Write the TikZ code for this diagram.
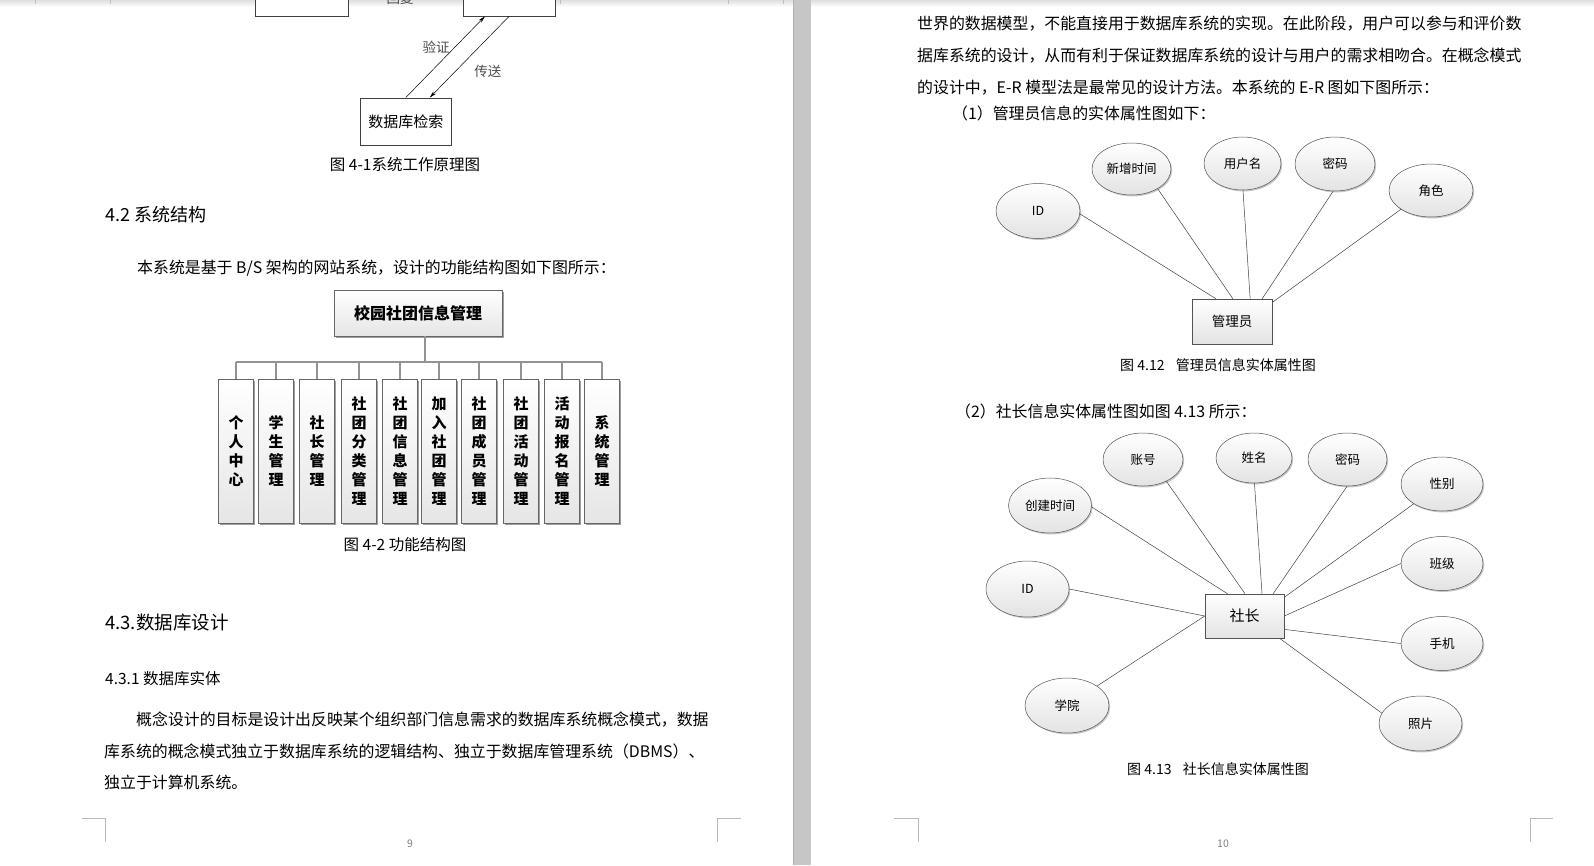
\documentclass[tikz,border=0pt]{standalone}
\usepackage{fontspec}
\setmainfont{Noto Sans CJK SC}
\usetikzlibrary{arrows.meta,calc,shapes.geometric,shadows}
\newcommand{\setfs}[2]{\fontsize{#1}{#2}\selectfont}

\begin{document}
\begin{tikzpicture}[
        x=1pt, y=-1pt,
        bodytext/.style={anchor=west, inner sep=0pt, font=\setfs{15.9}{20}},
        heading/.style={anchor=west, inner sep=0pt},
        caption/.style={inner sep=0pt, font=\setfs{14}{17}},
        pagenum/.style={inner sep=0pt, text=gray, font=\setfs{10.5}{12}},
        cropmark/.style={draw=gray!55, line width=0.7pt},
        flowbox/.style={
            rectangle,
            draw=black!75,
            line width=0.8pt,
            fill=white,
            inner sep=0pt,
            font=\setfs{15}{18}
        },
        flowarrow/.style={
            -{Stealth[length=7pt,width=3.6pt]},
            line width=0.5pt
        },
        flowlabel/.style={inner sep=0pt, text=black!70, font=\setfs{13.5}{16}},
        chartbox/.style={
            rectangle,
            draw=gray!80!black,
            line width=0.6pt,
            top color=white,
            bottom color=gray!20,
            drop shadow={shadow xshift=1.6pt, shadow yshift=-1.6pt, fill=gray!75, opacity=1},
            inner sep=0pt,
            align=center
        },
        chartline/.style={draw=gray!85, line width=1.4pt},
        attr/.style={
            ellipse,
            draw=gray!65!black,
            line width=0.5pt,
            top color=white,
            bottom color=gray!22,
            drop shadow={shadow xshift=1.2pt, shadow yshift=-1.4pt, fill=gray!55, opacity=.8},
            inner sep=0pt,
            minimum width=83pt,
            minimum height=55pt,
            font=\setfs{12.5}{15}
        },
        entity/.style={
            rectangle,
            draw=gray!65!black,
            line width=0.6pt,
            top color=white,
            bottom color=gray!22,
            drop shadow={shadow xshift=1.2pt, shadow yshift=-1.4pt, fill=gray!55, opacity=.8},
            inner sep=0pt
        },
        erline/.style={draw=gray!50!black, line width=0.5pt}
    ]

        \clip (0,0) rectangle (1594,865);

        % pages and the gap between them
        \fill[white] (0,0) rectangle (1594,865);
        \fill[gray!45] (793,0) rectangle (811,865);
        \draw[gray!65] (793,0) -- (793,865);
        \shade[top color=gray!25, bottom color=white] (0,0) rectangle (793,7);
        \shade[top color=gray!25, bottom color=white] (811,0) rectangle (1594,7);
        \foreach \tx in {35,110,288,560,728,783}
            \draw[gray!50, line width=0.6pt] (\tx,0) -- (\tx,4);

        % ---- left page: working principle (fragment)
        \node[flowbox, minimum width=93pt, minimum height=50pt] (user) at (301.5,-9) {};
        \node[flowbox, minimum width=92pt, minimum height=50pt] (server) at (509,-9) {};
        \node[flowlabel] (replylbl) at (400,-2) {回复};
        \node[flowbox, minimum width=91.5pt, minimum height=47pt] (dbsearch) at (405.75,121.5) {数据库检索};
        \coordinate (verifyend) at ($(server.south west)!0.24!(server.south east)$);
        \coordinate (sendend) at ($(dbsearch.north west)!0.76!(dbsearch.north east)$);
        \draw[flowarrow] (dbsearch.north) -- (verifyend)
            node[flowlabel, pos=0.62, left=5pt] {验证};
        \draw[flowarrow] (server.south) -- (sendend)
            node[flowlabel, pos=0.68, right=19pt] {传送};
        \node[caption, font=\setfs{15.5}{18}] (cap41) at (405,165) {图 4-1系统工作原理图};

        % ---- section 4.2
        \node[heading, font=\setfs{18}{22}] (sec42) at (105,215) {4.2 系统结构};
        \node[bodytext] (intro42) at (137,268) {本系统是基于 B/S 架构的网站系统，设计的功能结构图如下图所示：};

        % function structure chart
        \node[chartbox, minimum width=168pt, minimum height=46pt, font=\bfseries\setfs{16}{19}] (root) at (418,313) {校园社团信息管理};
        \foreach \i/\cx/\lab in {
            1/236/{个\\人\\中\\心},
            2/276/{学\\生\\管\\理},
            3/317/{社\\长\\管\\理},
            4/359/{社\\团\\分\\类\\管\\理},
            5/400/{社\\团\\信\\息\\管\\理},
            6/439/{加\\入\\社\\团\\管\\理},
            7/479/{社\\团\\成\\员\\管\\理},
            8/521/{社\\团\\活\\动\\管\\理},
            9/562/{活\\动\\报\\名\\管\\理},
            10/602/{系\\统\\管\\理}}
            \node[chartbox, minimum width=35pt, minimum height=144pt, font=\bfseries\setfs{15}{19}] (c\i) at (\cx,451) {\lab};

        \coordinate (hub) at (425,362);
        \draw[chartline] (root.south -| hub) -- (hub);
        \draw[chartline] (c1.north |- hub) -- (c10.north |- hub);
        \foreach \i in {1,...,10}
            \draw[chartline] (c\i.north |- hub) -- (c\i.north);

        \node[caption, font=\setfs{15.5}{18}] (cap42) at (405,545) {图 4-2 功能结构图};

        % ---- section 4.3
        \node[heading, font=\setfs{18.5}{22}] (sec43) at (105,622) {4.3.数据库设计};
        \node[heading, font=\setfs{15.5}{19}] (sec431) at (105,679) {4.3.1 数据库实体};
        \node[bodytext] (para1a) at (136,720) {概念设计的目标是设计出反映某个组织部门信息需求的数据库系统概念模式，数据};
        \node[bodytext] (para1b) at (104,751) {库系统的概念模式独立于数据库系统的逻辑结构、独立于数据库管理系统（DBMS）、};
        \node[bodytext] (para1c) at (104,782) {独立于计算机系统。};

        % page footer
        \draw[cropmark] (82,818) -- (105,818) -- (105,842);
        \draw[cropmark] (717.5,842) -- (717.5,818) -- (741,818);
        \node[pagenum] (pg9) at (410,844) {9};

        % ---- right page text
        \node[bodytext] (para2a) at (917,24) {世界的数据模型，不能直接用于数据库系统的实现。在此阶段，用户可以参与和评价数};
        \node[bodytext] (para2b) at (917,56) {据库系统的设计，从而有利于保证数据库系统的设计与用户的需求相吻合。在概念模式};
        \node[bodytext] (para2c) at (917,88) {的设计中，E-R 模型法是最常见的设计方法。本系统的 E-R 图如下图所示：};
        \node[bodytext] (item1) at (952,113) {（1）管理员信息的实体属性图如下：};

        % E-R: administrator
        \node[entity, minimum width=80pt, minimum height=45pt, font=\setfs{13.5}{16}] (admin) at (1232,321.5) {管理员};
        \node[attr, minimum width=84pt, minimum height=55pt, font=\setfs{12.5}{15}] (aid) at (1038,211) {ID};
        \node[attr, minimum width=79pt, minimum height=52pt, font=\setfs{12.5}{15}] (aadded) at (1131.5,169) {新增时间};
        \node[attr, minimum width=77pt, minimum height=53pt, font=\setfs{12.5}{15}] (auser) at (1242.5,163.5) {用户名};
        \node[attr, minimum width=80pt, minimum height=54pt, font=\setfs{12.5}{15}] (apass) at (1335,164) {密码};
        \node[attr, minimum width=84pt, minimum height=53pt, font=\setfs{12.5}{15}] (arole) at (1431,190.5) {角色};

        \draw[erline] (aid.-4) -- ($(admin.north west)!0.3!(admin.north east)$);
        \draw[erline] (aadded.-37) -- ($(admin.north west)!0.51!(admin.north east)$);
        \draw[erline] (auser.-89) -- ($(admin.north west)!0.725!(admin.north east)$);
        \draw[erline] (apass.-94) -- ($(admin.north west)!0.875!(admin.north east)$);
        \draw[erline] (arole.-148) -- ($(admin.north east)!0.08!(admin.south east)$);

        \node[caption] (cap412) at (1218,365) {图 4.12\hspace{0.8em}管理员信息实体属性图};

        \node[bodytext] (item2) at (955,411) {（2）社长信息实体属性图如图 4.13 所示：};

        % E-R: club president
        \node[entity, minimum width=79pt, minimum height=44pt, font=\setfs{15}{18}] (boss) at (1244.5,616) {社长};
        \node[attr] (bcreated) at (1050,505.5) {创建时间};
        \node[attr, minimum width=80pt, minimum height=53pt] (bacct) at (1143,459.5) {账号};
        \node[attr, minimum width=76pt, minimum height=50pt] (bname) at (1254,458) {姓名};
        \node[attr, minimum width=79pt, minimum height=53pt] (bpass) at (1347.5,459.5) {密码};
        \node[attr, minimum width=82pt, minimum height=54pt] (bsex) at (1442,484) {性别};
        \node[attr, minimum width=82pt, minimum height=54pt] (bclass) at (1442,563.5) {班级};
        \node[attr, minimum width=82pt, minimum height=54pt] (bphone) at (1442,643.5) {手机};
        \node[attr] (bphoto) at (1420.5,723.5) {照片};
        \node[attr, minimum width=84pt] (bcollege) at (1067,705.5) {学院};
        \node[attr, minimum height=56pt] (bid) at (1027.5,589) {ID};

        \draw[erline] (bcreated.-2) -- ($(boss.north west)!0.285!(boss.north east)$);
        \draw[erline] (bacct.-43) -- ($(boss.north west)!0.506!(boss.north east)$);
        \draw[erline] (bname.-89) -- ($(boss.north west)!0.72!(boss.north east)$);
        \draw[erline] (bpass.-91) -- ($(boss.north west)!0.86!(boss.north east)$);
        \draw[erline] (bsex.-145) -- ($(boss.north east)!0.08!(boss.south east)$);
        \draw[erline] (bclass.180) -- (boss.east);
        \draw[erline] (bphone.180) -- ($(boss.north east)!0.8!(boss.south east)$);
        \draw[erline] (bphoto.165) -- ($(boss.south west)!0.94!(boss.south east)$);
        \draw[erline] (bcollege.33) -- (boss.west);
        \draw[erline] (bid.0) -- (boss.west);

        \node[caption] (cap413) at (1218,769) {图 4.13\hspace{0.8em}社长信息实体属性图};

        % page footer
        \draw[cropmark] (894,818) -- (918,818) -- (918,842);
        \draw[cropmark] (1530,842) -- (1530,818) -- (1553,818);
        \node[pagenum] (pg10) at (1223,844) {10};

    \end{tikzpicture}
\end{document}
